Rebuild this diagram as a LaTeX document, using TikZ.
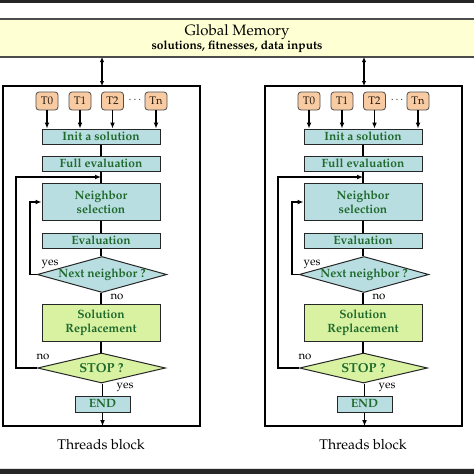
\documentclass[tikz,border=0pt]{standalone}
\usepackage[T1]{fontenc}
\usepackage{mathpazo}
\usetikzlibrary{arrows.meta,shapes.geometric}
\definecolor{memfill}{HTML}{FFFFD4}
\definecolor{bluefill}{HTML}{B9DEE2}
\definecolor{greenfill}{HTML}{D8F2A2}
\definecolor{thrfill}{HTML}{F8CBA2}
\definecolor{txtgreen}{HTML}{1F6A2C}
\begin{document}
\begin{tikzpicture}[x=1pt,y=-1pt,
  box/.style={draw=black!85,line width=1pt,fill=bluefill,minimum width=118pt,inner sep=0pt,
    font=\fontsize{12}{13.5}\selectfont\bfseries,text=txtgreen,align=center},
  gbox/.style={box,fill=greenfill},
  dia/.style={diamond,draw=black!85,line width=1pt,inner sep=0pt,fill=bluefill,font=\fontsize{12}{13}\selectfont\bfseries,text=txtgreen},
  thr/.style={draw=black!70,line width=0.8pt,fill=thrfill,rounded corners=3pt,minimum width=22pt,minimum height=18pt,inner sep=0pt,font=\fontsize{11}{12}\selectfont,text=black!80!brown},
  conn/.style={line width=1.2pt,draw=black},
  arr/.style={conn,-{Latex[length=6pt,width=5pt]}},
  darr/.style={conn,{Latex[length=5pt,width=4.5pt]}-{Latex[length=5pt,width=4.5pt]}},
  lbl/.style={font=\fontsize{11.5}{12}\selectfont,inner sep=0pt}
]
\useasboundingbox (0,0) rectangle (474,474);
\fill[black!85] (0,0) rectangle (474,3);
\fill[black!85] (0,469) rectangle (474,474);
\fill[black!12] (0,468) rectangle (474,469);
% global memory
\draw[line width=1.2pt,draw=black!70,fill=memfill] (-2,19) rectangle (476,57);
\node[font=\fontsize{15}{16}\selectfont] (gm) at (237,32) {Global Memory};
\node[font=\fontsize{12}{13}\selectfont\bfseries] (gms) at (237,46.5) {solutions, fitnesses, data inputs};
\foreach \cx/\s in {101/L,363/R}{
  \draw[line width=1.6pt,fill=white] (\cx-98,86) rectangle (\cx+99,426);
  \coordinate (memb\s) at (\cx+1,57);
  \coordinate (blkt\s) at (\cx+1,86);
  \coordinate (blkb\s) at (\cx+1,426);
  \draw[darr] (memb\s) -- (blkt\s);
  \node[thr] (t0\s) at (\cx-54,101) {T0};
  \node[thr] (t1\s) at (\cx-21,101) {T1};
  \node[thr] (t2\s) at (\cx+11.5,101) {T2};
  \node[inner sep=0pt,font=\bfseries] (dots\s) at (\cx+34,100) {$\cdots$};
  \node[thr] (tn\s) at (\cx+55,101) {Tn};
  \node[box,minimum height=15pt] (init\s) at (\cx,136.5) {Init a solution};
  \node[box,minimum height=15pt] (full\s) at (\cx,163.5) {Full evaluation};
  \node[box,minimum height=37pt] (nsel\s) at (\cx,202) {Neighbor\\selection};
  \node[box,minimum height=15pt] (eval\s) at (\cx,240.5) {Evaluation};
  \node[dia,aspect=3.6,minimum width=117pt,minimum height=33pt] (next\s) at (\cx+1,274.5) {Next neighbor ?};
  \node[gbox,minimum height=37pt] (repl\s) at (\cx,322.5) {Solution\\Replacement};
  \node[dia,aspect=4.3,minimum width=128pt,minimum height=30pt,fill=greenfill,font=\fontsize{13}{14}\selectfont\bfseries] (stop\s) at (\cx+0.5,368) {STOP ?};
  \node[box,minimum width=55pt,minimum height=16pt,font=\fontsize{12}{13}\selectfont\bfseries] (end\s) at (\cx+1.5,404) {END};
  \node[font=\fontsize{14}{15}\selectfont] (lab\s) at (\cx,445) {Threads block};
  \foreach \t in {t0,t1,t2,tn}{\draw[arr] (\t\s.south) -- (\t\s.south |- init\s.north);}
  \draw[conn] (init\s.south) -- (full\s.north);
  \draw[conn] (full\s.south) -- (nsel\s.north);
  \coordinate (join\s) at (\cx,177);
  \draw[arr] (stop\s.west) -- (\cx-85,368) |- (join\s);
  \draw[conn] (nsel\s.south) -- (eval\s.north);
  \draw[conn] (eval\s.south) -- (eval\s.south |- next\s.north);
  \draw[arr] (next\s.west) -- (\cx-71,274.5) |- (nsel\s.west);
  \draw[conn] (repl\s.north |- next\s.south) -- (repl\s.north);
  \draw[conn] (repl\s.south) -- (repl\s.south |- stop\s.north);
  \draw[conn] (end\s.north |- stop\s.south) -- (end\s.north);
  \draw[arr] (end\s.south) -- (end\s.south |- blkb\s);
  \node[lbl] (yes1\s) at (\cx-51,264) {yes};
  \node[lbl] (no1\s) at (\cx+16,297) {no};
  \node[lbl] (no2\s) at (\cx-58,357) {no};
  \node[lbl] (yes2\s) at (\cx+24,387) {yes};
}
\end{tikzpicture}
\end{document}
